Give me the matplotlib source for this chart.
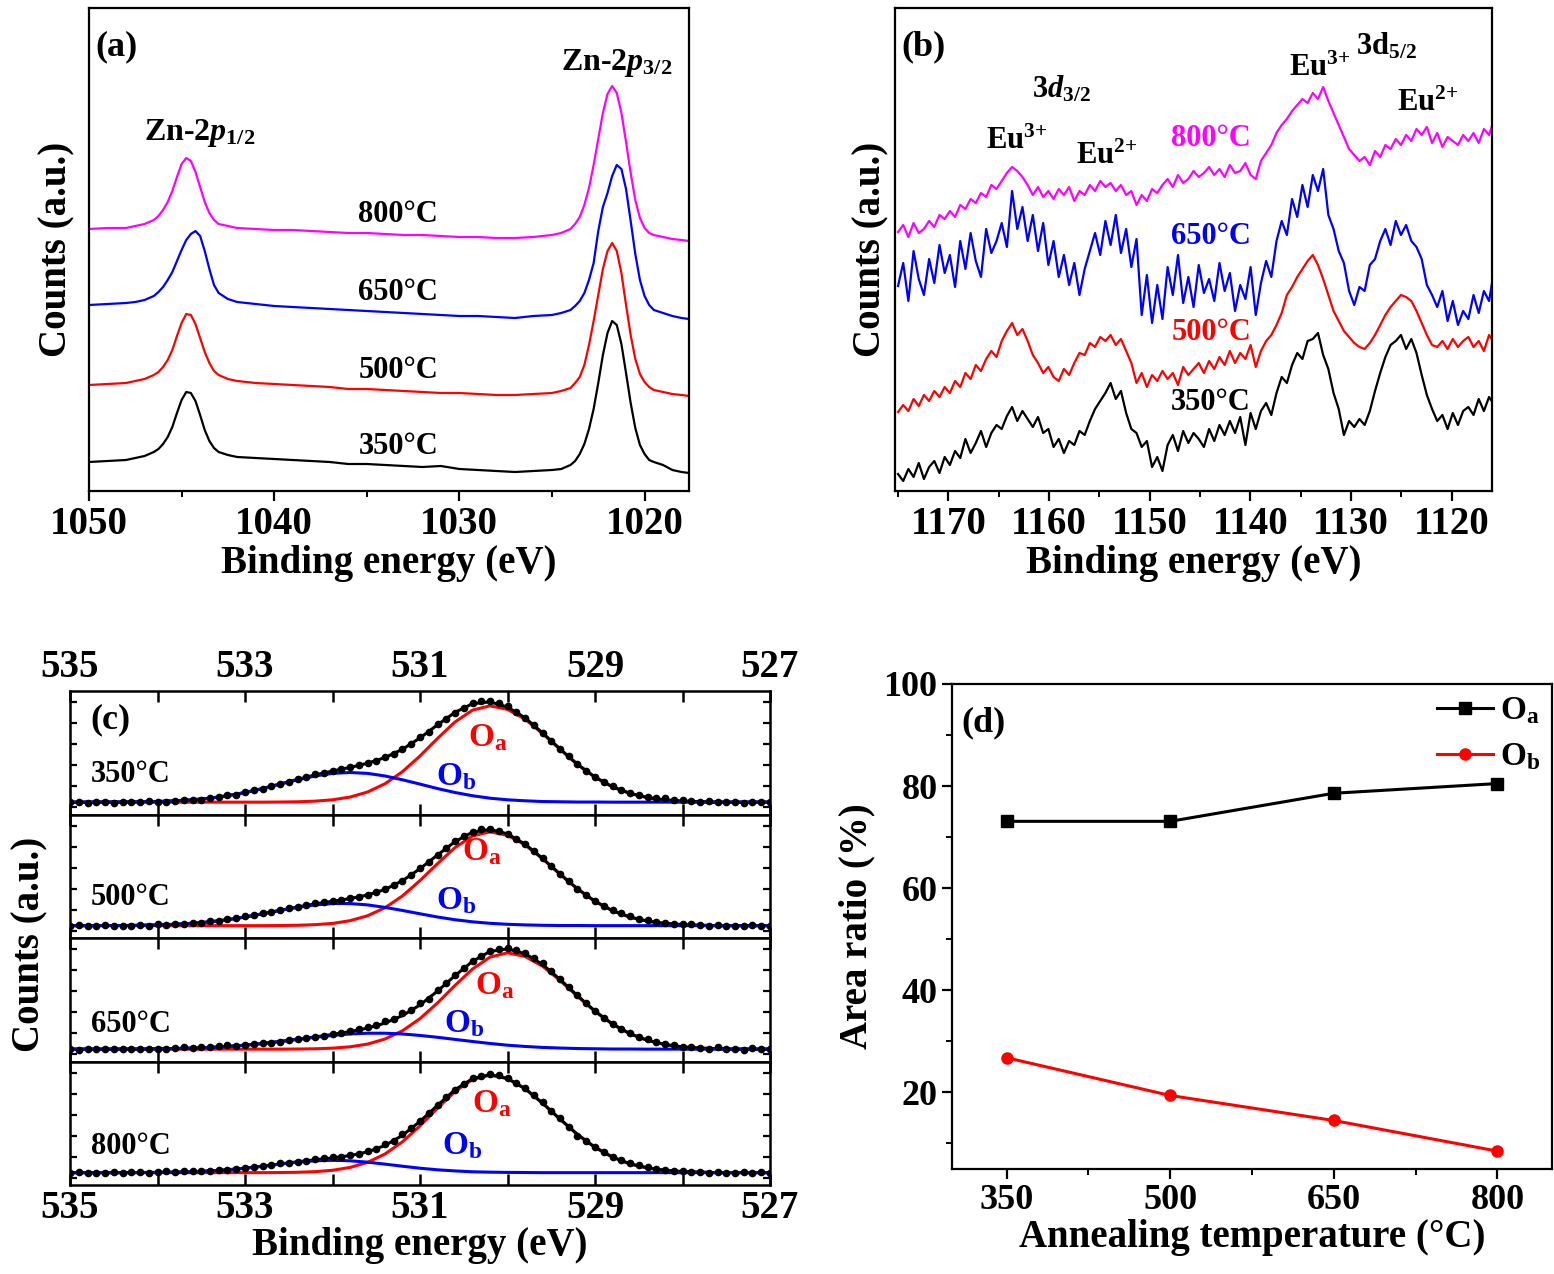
import numpy as np
import matplotlib
matplotlib.use('Agg')
import matplotlib.pyplot as plt
from matplotlib.ticker import MultipleLocator

plt.rcParams['font.family'] = 'Liberation Serif'
plt.rcParams['font.weight'] = 'bold'
plt.rcParams['axes.labelweight'] = 'bold'
plt.rcParams['mathtext.fontset'] = 'custom'
plt.rcParams['mathtext.rm'] = 'Liberation Serif:bold'
plt.rcParams['mathtext.it'] = 'Liberation Serif:bold:italic'
plt.rcParams['mathtext.bf'] = 'Liberation Serif:bold'
plt.rcParams['axes.linewidth'] = 1.6

# ---------------- (a) Zn 2p ----------------
a_energy = [1050, 1049, 1048, 1047.5, 1047,
            1046.5, 1046.25, 1046, 1045.75, 1045.5, 1045.25, 1045, 1044.75, 1044.5,
            1044.25, 1044, 1043.75, 1043.5, 1043.25, 1043,
            1042.5, 1042,
            1041, 1040, 1039, 1038, 1037, 1036, 1035, 1034, 1033, 1032, 1031, 1030,
            1029, 1028, 1027, 1026, 1025,
            1024.5, 1024,
            1023.75, 1023.5, 1023.25, 1023, 1022.75, 1022.5, 1022.25, 1022, 1021.75,
            1021.5, 1021.25, 1021, 1020.75, 1020.5, 1020.25, 1020, 1019.75,
            1019.5, 1019, 1018.5, 1018, 1017.6]
a350 = [29, 30, 31, 33, 35,
        39, 42, 47, 54, 64, 78, 91, 99, 98, 90, 76, 61, 50, 43, 39,
        36, 34,
        33, 32, 31, 30, 29, 27, 27, 26, 25, 24, 25, 22, 21, 20, 19, 20, 21,
        22, 26,
        30, 37, 47, 62, 82, 108, 136, 158, 170, 166, 147, 118, 88, 63, 46, 37, 31,
        29, 26, 21, 19, 18]
a500 = [106, 107, 108, 110, 112,
        116, 119, 124, 131, 141, 155, 168, 177, 176, 167, 153, 139, 128, 120, 116,
        112, 110,
        108, 107, 106, 105, 104, 102, 102, 101, 100, 99, 98, 98, 97, 96, 96, 97, 98,
        100, 103,
        108, 114, 126, 146, 170, 196, 222, 240, 248, 240, 218, 186, 156, 132, 117, 109, 104,
        101, 99, 97, 96, 95]
a650 = [186, 187, 188, 189, 191,
        195, 199, 204, 211, 219, 230, 241, 251, 257, 260, 255, 240, 222, 206, 198,
        192, 189,
        187, 185, 184, 183, 182, 181, 180, 179, 178, 177, 176, 175, 175, 174, 173, 175, 176,
        178, 181,
        185, 190, 198, 211, 228, 260, 284, 298, 315, 326, 322, 302, 270, 237, 211, 195, 186,
        181, 178, 175, 173, 172]
a800 = [262, 263, 263, 265, 267,
        271, 275, 281, 289, 300, 314, 327, 333, 330, 319, 304, 289, 278, 271, 267,
        265, 263,
        262, 261, 261, 260, 259, 258, 258, 257, 256, 256, 255, 254, 254, 253, 253, 254, 256,
        258, 262,
        267, 274, 286, 303, 326, 352, 378, 397, 405, 398, 378, 349, 318, 291, 273, 263, 258,
        256, 254, 252, 251, 250]

# ---------------- (b) Eu 3d ----------------
b350 = [17, 10, 22, 14, 28, 12, 24, 30, 18, 34,
        26, 40, 33, 52, 38, 48, 60, 44, 58, 66,
        62, 75, 84, 70, 80, 72, 64, 74, 58, 62,
        44, 52, 38, 50, 46, 60, 56, 70, 82, 90,
        98, 108, 92, 100, 78, 62, 58, 44, 50, 24,
        34, 20, 46, 56, 40, 60, 48, 58, 52, 44,
        62, 50, 66, 56, 70, 58, 74, 46, 78, 62,
        80, 88, 76, 98, 114, 108, 126, 138, 132, 150,
        152, 158, 136, 122, 98, 82, 56, 70, 64, 72,
        66, 80, 100, 118, 134, 146, 150, 156, 142, 152,
        138, 116, 96, 82, 70, 76, 62, 78, 66, 80,
        84, 76, 92, 80, 94, 86, 98]
b500 = [79, 86, 80, 92, 85, 96, 90, 100, 94, 104,
        98, 110, 104, 118, 112, 126, 120, 132, 140, 134,
        150, 160, 168, 156, 162, 150, 136, 128, 118, 124,
        114, 110, 122, 116, 128, 138, 136, 148, 144, 154,
        150, 156, 146, 152, 140, 128, 108, 118, 104, 116,
        110, 120, 112, 118, 106, 124, 116, 122, 128, 118,
        130, 122, 134, 126, 140, 128, 138, 132, 146, 124,
        140, 150, 156, 166, 178, 196, 204, 214, 222, 230,
        236, 226, 212, 196, 180, 170, 160, 154, 148, 144,
        142, 148, 156, 166, 176, 184, 190, 196, 194, 190,
        180, 168, 156, 146, 144, 150, 142, 152, 144, 150,
        154, 144, 150, 140, 156, 148, 152]
b650 = [205, 228, 190, 240, 212, 196, 232, 208, 246, 218,
        236, 204, 250, 222, 258, 230, 214, 262, 238, 250,
        268, 244, 300, 262, 284, 250, 276, 240, 268, 226,
        250, 214, 236, 206, 228, 196, 222, 240, 258, 236,
        270, 246, 276, 238, 262, 224, 252, 176, 216, 168,
        206, 172, 224, 196, 236, 188, 214, 184, 226, 198,
        212, 190, 228, 200, 218, 180, 206, 192, 224, 176,
        208, 230, 214, 250, 270, 256, 292, 274, 306, 284,
        316, 300, 322, 276, 262, 240, 228, 200, 186, 204,
        200, 226, 232, 250, 262, 246, 270, 256, 266, 250,
        244, 232, 206, 196, 184, 200, 170, 190, 166, 180,
        172, 196, 178, 200, 190, 222, 214]
b800 = [259, 266, 254, 268, 258, 262, 270, 264, 276, 272,
        280, 274, 286, 282, 292, 288, 298, 294, 306, 302,
        310, 318, 324, 320, 314, 306, 296, 304, 294, 300,
        292, 302, 296, 304, 290, 300, 296, 306, 300, 310,
        304, 308, 300, 306, 296, 300, 286, 296, 290, 302,
        298, 306, 312, 304, 316, 308, 312, 320, 314, 318,
        324, 316, 322, 314, 326, 318, 320, 328, 316, 312,
        330, 338, 346, 358, 366, 372, 380, 386, 392, 388,
        398, 392, 404, 390, 378, 366, 354, 342, 336, 330,
        334, 326, 340, 334, 346, 342, 352, 346, 356, 350,
        362, 356, 364, 348, 358, 344, 354, 350, 346, 356,
        350, 358, 348, 362, 356, 372, 364]
b_energy = np.linspace(1175, 1115.26, len(b350))

# ---------------- (c) O 1s fits ----------------
c_fit_energy = np.linspace(535, 527, 41)
c_dot_energy = np.linspace(535, 527, 81)

oa_350 = [0, 0, 0, 0, 0, 0, 0, 0, 0, 0, 0, 0,
          0.001, 0.003, 0.008, 0.019, 0.041, 0.082, 0.149, 0.247, 0.374, 0.516, 0.649, 0.745, 0.78,
          0.751, 0.672, 0.556, 0.428, 0.305, 0.202, 0.124, 0.071, 0.037, 0.018, 0.008, 0.004,
          0, 0, 0, 0]
ob_350 = [0, 0, 0.001, 0.001, 0.003, 0.005, 0.011, 0.019, 0.032, 0.052, 0.078, 0.110,
          0.146, 0.181, 0.212, 0.233, 0.24, 0.233, 0.212, 0.181, 0.146, 0.110, 0.078,
          0.052, 0.032, 0.019, 0.011, 0.005, 0.003, 0.001, 0.001,
          0, 0, 0, 0, 0, 0, 0, 0, 0, 0]
dot_350 = [0.00, 0.005, -0.005, 0.00, 0.005, -0.01, 0.00, 0.005, 0.00, 0.01,
           0.005, 0.00, 0.01, 0.02, 0.02, 0.02, 0.03, 0.045, 0.055, 0.06,
           0.08, 0.095, 0.11, 0.13, 0.15, 0.165, 0.185, 0.205, 0.225, 0.235,
           0.255, 0.27, 0.285, 0.30, 0.32, 0.335, 0.365, 0.39, 0.43, 0.47,
           0.525, 0.57, 0.63, 0.675, 0.725, 0.765, 0.80, 0.815, 0.82, 0.80,
           0.775, 0.73, 0.68, 0.625, 0.56, 0.495, 0.43, 0.37, 0.31, 0.255,
           0.205, 0.165, 0.13, 0.10, 0.075, 0.06, 0.045, 0.035, 0.03, 0.02,
           0.015, 0.01, 0.005, 0.01, 0.00, 0.005, 0.00, -0.005, 0.00, 0.005, 0.00]

oa_500 = [0, 0, 0, 0, 0, 0, 0, 0, 0, 0, 0, 0,
          0.001, 0.003, 0.008, 0.018, 0.040, 0.080, 0.145, 0.241, 0.365, 0.502, 0.632, 0.726, 0.76,
          0.732, 0.654, 0.542, 0.417, 0.297, 0.197, 0.121, 0.069, 0.036, 0.018, 0.008, 0.003,
          0, 0, 0, 0]
ob_500 = [0, 0, 0.001, 0.001, 0.003, 0.006, 0.011, 0.019, 0.031, 0.048, 0.070, 0.096,
          0.123, 0.148, 0.168, 0.179, 0.179, 0.168, 0.148, 0.123, 0.096, 0.070, 0.048,
          0.031, 0.019, 0.011, 0.006, 0.003, 0.001, 0.001,
          0, 0, 0, 0, 0, 0, 0, 0, 0, 0, 0]
dot_500 = [0.00, 0.005, 0.00, -0.005, 0.005, 0.00, 0.00, -0.005, 0.005, 0.00,
           0.01, 0.005, 0.015, 0.015, 0.025, 0.025, 0.035, 0.04, 0.05, 0.06,
           0.075, 0.085, 0.10, 0.11, 0.125, 0.14, 0.155, 0.165, 0.18, 0.19,
           0.20, 0.21, 0.225, 0.235, 0.25, 0.27, 0.295, 0.33, 0.365, 0.41,
           0.465, 0.515, 0.575, 0.63, 0.685, 0.725, 0.76, 0.78, 0.785, 0.77,
           0.745, 0.705, 0.66, 0.605, 0.545, 0.48, 0.42, 0.36, 0.30, 0.245,
           0.20, 0.16, 0.125, 0.10, 0.075, 0.055, 0.045, 0.03, 0.025, 0.015,
           0.01, 0.01, 0.005, 0.00, 0.005, 0.00, -0.005, 0.00, 0.005, 0.00, 0.00]

oa_650 = [0, 0, 0, 0, 0, 0, 0, 0, 0, 0, 0, 0, 0,
          0.001, 0.003, 0.008, 0.019, 0.041, 0.082, 0.149, 0.247, 0.374, 0.516, 0.649, 0.745, 0.78,
          0.751, 0.672, 0.556, 0.428, 0.305, 0.202, 0.124, 0.071, 0.037, 0.018, 0.008, 0.004,
          0, 0, 0]
ob_650 = [0, 0, 0, 0.001, 0.001, 0.003, 0.005, 0.009, 0.014, 0.022, 0.032, 0.046,
          0.062, 0.079, 0.096, 0.111, 0.123, 0.129, 0.129, 0.123, 0.111, 0.096, 0.079,
          0.062, 0.046, 0.032, 0.022, 0.014, 0.009, 0.005, 0.003, 0.001, 0.001,
          0, 0, 0, 0, 0, 0, 0, 0]
dot_650 = [0.00, -0.005, 0.005, 0.00, 0.00, 0.005, 0.005, 0.00, 0.005, 0.00,
           0.00, 0.005, 0.01, 0.015, 0.01, 0.02, 0.015, 0.025, 0.03, 0.025,
           0.035, 0.04, 0.05, 0.05, 0.06, 0.075, 0.08, 0.09, 0.10, 0.11,
           0.125, 0.13, 0.145, 0.16, 0.18, 0.195, 0.225, 0.245, 0.29, 0.315,
           0.37, 0.41, 0.48, 0.535, 0.60, 0.655, 0.715, 0.755, 0.795, 0.81,
           0.815, 0.80, 0.775, 0.735, 0.70, 0.63, 0.565, 0.50, 0.435, 0.37,
           0.31, 0.255, 0.205, 0.16, 0.13, 0.10, 0.08, 0.055, 0.04, 0.03,
           0.02, 0.015, 0.01, 0.005, 0.02, 0.00, 0.00, -0.005, 0.01, 0.005, 0.00]

oa_800 = [0, 0, 0, 0, 0, 0, 0, 0, 0, 0, 0, 0,
          0.001, 0.003, 0.008, 0.019, 0.042, 0.083, 0.151, 0.250, 0.379, 0.522, 0.657, 0.754, 0.79,
          0.761, 0.680, 0.563, 0.434, 0.309, 0.205, 0.126, 0.071, 0.038, 0.019, 0.008, 0.004,
          0, 0, 0, 0]
ob_800 = [0, 0, 0, 0, 0.001, 0.002, 0.004, 0.007, 0.014, 0.023, 0.036, 0.052,
          0.069, 0.085, 0.096, 0.10, 0.096, 0.085, 0.069, 0.052, 0.036, 0.023, 0.014,
          0.007, 0.004, 0.002, 0.001,
          0, 0, 0, 0, 0, 0, 0, 0, 0, 0, 0, 0, 0, 0]
dot_800 = [0.00, 0.005, 0.00, -0.005, 0.00, 0.005, 0.00, 0.005, 0.005, 0.00,
           0.005, 0.01, 0.005, 0.01, 0.01, 0.015, 0.015, 0.02, 0.025, 0.03,
           0.04, 0.045, 0.055, 0.06, 0.075, 0.08, 0.09, 0.095, 0.11, 0.115,
           0.125, 0.13, 0.145, 0.155, 0.175, 0.195, 0.23, 0.26, 0.31, 0.36,
           0.42, 0.48, 0.55, 0.61, 0.67, 0.72, 0.765, 0.785, 0.80, 0.79,
           0.765, 0.725, 0.685, 0.625, 0.57, 0.50, 0.44, 0.37, 0.30, 0.255,
           0.21, 0.165, 0.13, 0.10, 0.075, 0.06, 0.045, 0.03, 0.02, 0.015,
           0.01, 0.005, 0.005, 0.00, 0.005, 0.00, 0.00, 0.005, 0.00, 0.005, 0.00]

# ---------------- (d) area ratios ----------------
temps = [350, 500, 650, 800]
ratio_oa = [73.1, 73.1, 78.6, 80.5]
ratio_ob = [26.8, 19.4, 14.5, 8.5]

temp_labels = ['350°C', '500°C', '650°C', '800°C']
colors = ['black', 'red', 'blue', 'magenta']

W, H = 1554, 1274
fig = plt.figure(figsize=(W / 100, H / 100), dpi=100)


def box(x0, y0, x1, y1):
    return [x0 / W, 1 - y1 / H, (x1 - x0) / W, (y1 - y0) / H]


TICK = 28
LAB = 28

# (a)
ax = fig.add_axes(box(89, 8, 689, 491))
for y, c in zip([a350, a500, a650, a800], colors):
    ax.plot(a_energy, y, color=c, lw=1.6)
ax.set_xlim(1050, 1017.6)
ax.set_ylim(0, 483)
ax.set_yticks([])
ax.xaxis.set_major_locator(MultipleLocator(10))
ax.xaxis.set_minor_locator(MultipleLocator(5))
ax.tick_params(axis='x', which='major', direction='out', length=7, width=1.6, labelsize=TICK)
ax.tick_params(axis='x', which='minor', direction='out', length=4, width=1.4)
ax.set_xlabel('Binding energy (eV)', fontsize=LAB, labelpad=2)
ax.set_ylabel('Counts (a.u.)', fontsize=LAB, labelpad=10)
ax.text(0.01, 0.92, '(a)', transform=ax.transAxes, fontsize=26, ha='left', va='center')
ax.text(1044.0, 358, r'Zn-2$\mathit{p}_{1/2}$', fontsize=23, ha='center', va='center')
ax.text(1021.5, 428, r'Zn-2$\mathit{p}_{3/2}$', fontsize=23, ha='center', va='center')
for lab, h in zip(temp_labels, [44, 120, 199, 277]):
    ax.text(1033.3, h, lab, fontsize=22, ha='center', va='center')

# (b)
ax = fig.add_axes(box(895, 8, 1492, 491))
for y, c in zip([b350, b500, b650, b800], colors):
    ax.plot(b_energy, y, color=c, lw=1.6)
ax.set_xlim(1175.3, 1116)
ax.set_ylim(0, 483)
ax.set_yticks([])
ax.xaxis.set_major_locator(MultipleLocator(10))
ax.xaxis.set_minor_locator(MultipleLocator(5))
ax.tick_params(axis='x', which='major', direction='out', length=7, width=1.6, labelsize=TICK)
ax.tick_params(axis='x', which='minor', direction='out', length=4, width=1.4)
ax.set_xlabel('Binding energy (eV)', fontsize=LAB, labelpad=2)
ax.set_ylabel('Counts (a.u.)', fontsize=LAB, labelpad=4)
ax.text(0.01, 0.92, '(b)', transform=ax.transAxes, fontsize=26, ha='left', va='center')
ax.text(1158.8, 402, r'3$\mathit{d}_{3/2}$', fontsize=22, ha='center', va='center')
ax.text(1163.2, 350, r'Eu$^{3{+}}$', fontsize=22, ha='center', va='center')
ax.text(1154.3, 335, r'Eu$^{2{+}}$', fontsize=22, ha='center', va='center')
ax.text(1133.1, 423, r'Eu$^{3{+}}$', fontsize=22, ha='center', va='center')
ax.text(1126.5, 445, r'3d$_{5/2}$', fontsize=22, ha='center', va='center')
ax.text(1122.4, 388, r'Eu$^{2{+}}$', fontsize=22, ha='center', va='center')
for lab, h, c in zip(temp_labels, [88, 158, 255, 352], colors):
    ax.text(1143.9, h, lab, fontsize=22, ha='center', va='center', color=c)

# (c)
tops = [691, 814.5, 938, 1061.5]
oa_sets = [oa_350, oa_500, oa_650, oa_800]
ob_sets = [ob_350, ob_500, ob_650, ob_800]
dot_sets = [dot_350, dot_500, dot_650, dot_800]
oa_text = [(530.22, 0.52), (530.29, 0.60), (530.15, 0.51), (530.18, 0.56)]
ob_text = [(530.59, 0.21), (530.59, 0.20), (530.50, 0.21), (530.52, 0.22)]
temp_y = [0.22, 0.23, 0.20, 0.21]
for k in range(4):
    ax = fig.add_axes(box(70, tops[k], 770, tops[k] + 123.5))
    for s in ax.spines.values():
        s.set_linewidth(1.8)
    oa = np.array(oa_sets[k])
    ob = np.array(ob_sets[k])
    ax.plot(c_fit_energy, oa, color='red', lw=2.2)
    ax.plot(c_fit_energy, oa + ob, color='black', lw=2.2)
    ax.plot(c_fit_energy, ob, color='blue', lw=2.2)
    ax.plot(c_dot_energy, dot_sets[k], 'o', color='black', ms=4.5, zorder=5)
    ax.set_xlim(535, 527)
    ax.set_ylim(-0.1, 0.9)
    ax.set_xticks([535, 533, 531, 529, 527])
    ax.set_xticks([534, 532, 530, 528], minor=True)
    ax.set_yticks([-0.04, 0.13, 0.30, 0.47, 0.64, 0.81])
    ax.tick_params(axis='x', which='both', direction='in', top=True, bottom=True,
                   length=8, width=1.8, labelsize=TICK,
                   labeltop=(k == 0), labelbottom=(k == 3))
    ax.tick_params(axis='y', direction='in', left=True, right=True, length=5, width=1.6,
                   labelleft=False)
    ax.text(534.76, temp_y[k], temp_labels[k], fontsize=22, ha='left', va='center')
    ax.text(oa_text[k][0], oa_text[k][1], r'O$_\mathrm{a}$', fontsize=24, color='red',
            ha='center', va='center')
    ax.text(ob_text[k][0], ob_text[k][1], r'O$_\mathrm{b}$', fontsize=24, color='blue',
            ha='center', va='center')
    if k == 0:
        ax.text(534.77, 0.665, '(c)', fontsize=26, ha='left', va='center')
    if k == 3:
        ax.set_xlabel('Binding energy (eV)', fontsize=LAB, labelpad=0)
fig.text(30 / W, 1 - 944 / H, 'Counts (a.u.)', fontsize=LAB, rotation=90,
         ha='center', va='center')

# (d)
ax = fig.add_axes(box(952, 684, 1552, 1169))
ax.plot(temps, ratio_oa, '-s', color='black', lw=2.2, ms=8, label=r'O$_\mathrm{a}$')
ax.plot(temps, ratio_ob, '-o', color='red', lw=2.2, ms=8, label=r'O$_\mathrm{b}$')
ax.set_xlim(300, 850)
ax.set_ylim(5, 100)
ax.set_xticks(temps)
ax.set_xticks([425, 575, 725], minor=True)
ax.yaxis.set_major_locator(MultipleLocator(20))
ax.yaxis.set_minor_locator(MultipleLocator(10))
ax.tick_params(which='major', direction='out', length=7, width=1.6, labelsize=26)
ax.tick_params(which='minor', direction='out', length=4, width=1.4)
ax.set_xlabel('Annealing temperature (°C)', fontsize=LAB, labelpad=2)
ax.set_ylabel('Area ratio (%)', fontsize=LAB, labelpad=6)
ax.text(0.015, 0.92, '(d)', transform=ax.transAxes, fontsize=26, ha='left', va='center')
ax.legend(loc='upper right', frameon=False, fontsize=24, handlelength=1.7,
          handletextpad=0.2, labelspacing=0.45, borderaxespad=0.15, borderpad=0.2)

fig.savefig('out.png', dpi=100)
